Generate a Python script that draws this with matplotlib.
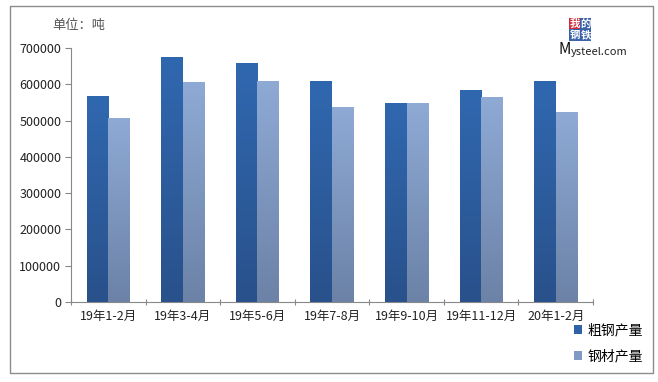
import matplotlib
matplotlib.use("Agg")
import matplotlib.pyplot as plt
import numpy as np
from matplotlib.patches import Rectangle
from matplotlib.colors import LinearSegmentedColormap

plt.rcParams['font.family'] = ['Noto Sans CJK SC', 'DejaVu Sans']

categories = ["19年1-2月", "19年3-4月", "19年5-6月", "19年7-8月", "19年9-10月", "19年11-12月", "20年1-2月"]
crude_steel = [568000, 676000, 659000, 610000, 548000, 584000, 609000]
steel_products = [508000, 607000, 610000, 538000, 548000, 564000, 523000]
series_names = ["粗钢产量", "钢材产量"]
yticks = [0, 100000, 200000, 300000, 400000, 500000, 600000, 700000]

W, H = 658, 382
fig = plt.figure(figsize=(W / 100, H / 100), dpi=100)
fig.patch.set_facecolor("white")

# outer frame
fig.patches.append(Rectangle((10 / W, 1 - 373 / H), 643 / W, 367 / H, transform=fig.transFigure,
                             fill=False, edgecolor="#8c8c8c", linewidth=1.0))

ax = fig.add_axes([71 / W, 1 - 302 / H, (593 - 71) / W, (302 - 48) / H])
x = np.arange(len(categories))
bw = 0.29
dark_cmap = LinearSegmentedColormap.from_list("d", ["#29518b", "#3068b0"])
light_cmap = LinearSegmentedColormap.from_list("l", ["#6c82a7", "#8eaad5"])
b1 = ax.bar(x - bw / 2, crude_steel, bw, color="#2f62a6", label=series_names[0], zorder=2)
b2 = ax.bar(x + bw / 2, steel_products, bw, color="#7f9ac4", label=series_names[1], zorder=2)

grad = np.linspace(0, 1, 256).reshape(-1, 1)
for bars, cmap in ((b1, dark_cmap), (b2, light_cmap)):
    for r in bars:
        x0, y0 = r.get_x(), r.get_y()
        w, h = r.get_width(), r.get_height()
        im = ax.imshow(grad, extent=[x0, x0 + w, y0, y0 + h], origin="lower", cmap=cmap,
                       aspect="auto", zorder=3)
        im.set_clip_path(r)

ax.set_xlim(-0.5, len(categories) - 0.5)
ax.set_ylim(0, 700000)
ax.set_yticks(yticks)
ax.set_yticklabels([str(v) for v in yticks], fontsize=9, color="#222222")
ax.set_xticks(np.arange(len(categories) + 1) - 0.5)
ax.set_xticklabels([])
ax.set_xticks(x, minor=True)
ax.set_xticklabels(categories, minor=True, fontsize=9, color="#222222")
ax.tick_params(axis="x", which="minor", length=0, pad=6)
ax.tick_params(axis="x", which="major", length=5, direction="inout", color="#888888")
ax.tick_params(axis="y", length=4, direction="out", color="#888888", pad=3)
for s in ("top", "right"):
    ax.spines[s].set_visible(False)
for s in ("left", "bottom"):
    ax.spines[s].set_color("#888888")
    ax.spines[s].set_linewidth(0.8)

leg = fig.legend(handles=[b1, b2], labels=series_names, loc="upper left",
                 bbox_to_anchor=(561 / W, 1 - 311 / H), frameon=False, fontsize=10,
                 handlelength=0.6, handleheight=0.6, handletextpad=0.4, labelspacing=0.85)

fig.text(52 / W, 1 - 26 / H, "单位：吨", fontsize=9.5, color="#555555", va="center", ha="left")

# logo
fig.patches.append(Rectangle((569 / W, 1 - 29 / H), 11 / W, 11 / H, transform=fig.transFigure,
                             facecolor="#d2283a", edgecolor="none"))
fig.patches.append(Rectangle((580 / W, 1 - 29 / H), 11 / W, 11 / H, transform=fig.transFigure,
                             facecolor="#3a63a8", edgecolor="none"))
fig.patches.append(Rectangle((569 / W, 1 - 41 / H), 22 / W, 12 / H, transform=fig.transFigure,
                             facecolor="#3a63a8", edgecolor="none"))
for t, (px, py) in zip(["我", "的", "钢", "铁"], [(574.5, 23.5), (585.5, 23.5), (574.5, 35), (585.5, 35)]):
    fig.text(px / W, 1 - py / H, t, fontsize=7.5, color="white", ha="center", va="center",
             fontweight="bold")
fig.text(558 / W, 1 - 50 / H, "M", fontsize=11, color="#111111", ha="left", va="center")
fig.text(571 / W, 1 - 52 / H, "ysteel.com", fontsize=8, color="#222222", ha="left", va="center")

fig.savefig("out.png", dpi=100, facecolor="white")
